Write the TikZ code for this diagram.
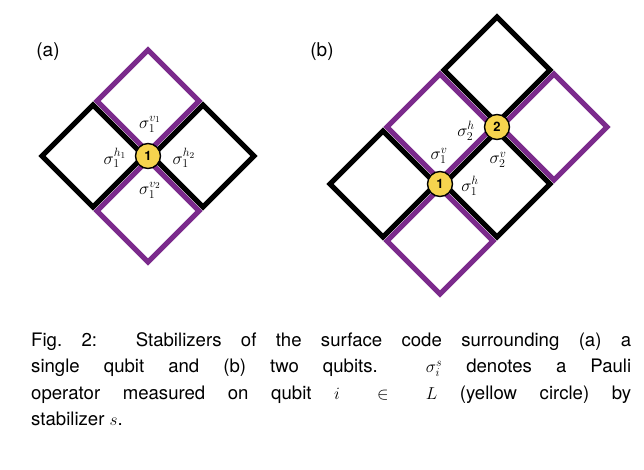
\documentclass[tikz,border=0pt]{standalone}
\usepackage{fontspec}
\setmainfont{TeX Gyre Heros}
\definecolor{purp}{HTML}{7B2A8C}
\definecolor{qyel}{HTML}{F6D44E}
\begin{document}
\begin{tikzpicture}[x=1pt,y=-1pt,
  blk/.style={draw=black,line width=5.2pt,line join=miter},
  pur/.style={draw=purp,line width=5.2pt,line join=miter},
  qubit/.style={circle,draw=black,line width=1.4pt,fill=qyel,minimum size=25pt,inner sep=0pt,font=\bfseries\fontsize{13}{13}\selectfont},
  lab/.style={font=\fontsize{18}{18}\selectfont,inner sep=0pt},
  panel/.style={font=\fontsize{19}{19}\selectfont,inner sep=0pt}]
\useasboundingbox (0,0) rectangle (644,470);
% (a)
\coordinate (qa) at (148,156);
\draw[pur] (148,50) -- (199,101) -- (148,152) -- (97,101) -- cycle;
\draw[pur] (148,160) -- (199,211) -- (148,262) -- (97,211) -- cycle;
\draw[blk] (42,156) -- (93,105) -- (144,156) -- (93,207) -- cycle;
\draw[blk] (152,156) -- (203,105) -- (254,156) -- (203,207) -- cycle;
\node[qubit] (q1a) at (qa) {1};
\node[lab] (av1) at (150,124) {$\sigma_1^{v_1}$};
\node[lab] (ah1) at (115,158) {$\sigma_1^{h_1}$};
\node[lab] (ah2) at (184,158) {$\sigma_1^{h_2}$};
\node[lab] (av2) at (150,190) {$\sigma_1^{v_2}$};
\node[panel] (pa) at (48,52) {(a)};
% (b)
\draw[blk] (497,17) -- (550,70) -- (497,123) -- (444,70) -- cycle;
\draw[pur] (554,74) -- (607,127) -- (554,180) -- (501,127) -- cycle;
\draw[pur] (440,74) -- (493,127) -- (440,180) -- (387,127) -- cycle;
\draw[blk] (497,131) -- (550,184) -- (497,237) -- (444,184) -- cycle;
\draw[blk] (383,131) -- (436,184) -- (383,237) -- (330,184) -- cycle;
\draw[pur] (440,188) -- (493,241) -- (440,294) -- (387,241) -- cycle;
\node[qubit] (q1b) at (440,184) {1};
\node[qubit] (q2b) at (497,127) {2};
\node[lab] (bh2) at (466,131) {$\sigma_2^{h}$};
\node[lab] (bv1) at (439,156) {$\sigma_1^{v}$};
\node[lab] (bv2) at (498,160) {$\sigma_2^{v}$};
\node[lab] (bh1) at (470,186) {$\sigma_1^{h}$};
\node[panel] (pb) at (322,52) {(b)};
% caption
\node[anchor=north west,text width=600pt,align=justify,inner sep=0pt,
  font=\fontsize{18.6}{26.5}\selectfont] (cap) at (31,332)
  {Fig.~2:\ \ Stabilizers of the surface code surrounding (a) a\linebreak single qubit and (b) two qubits.\ \ $\sigma_i^s$ denotes a Pauli\linebreak operator measured on qubit $i \in L$ (yellow circle) by\linebreak stabilizer $s$.};
\end{tikzpicture}
\end{document}
